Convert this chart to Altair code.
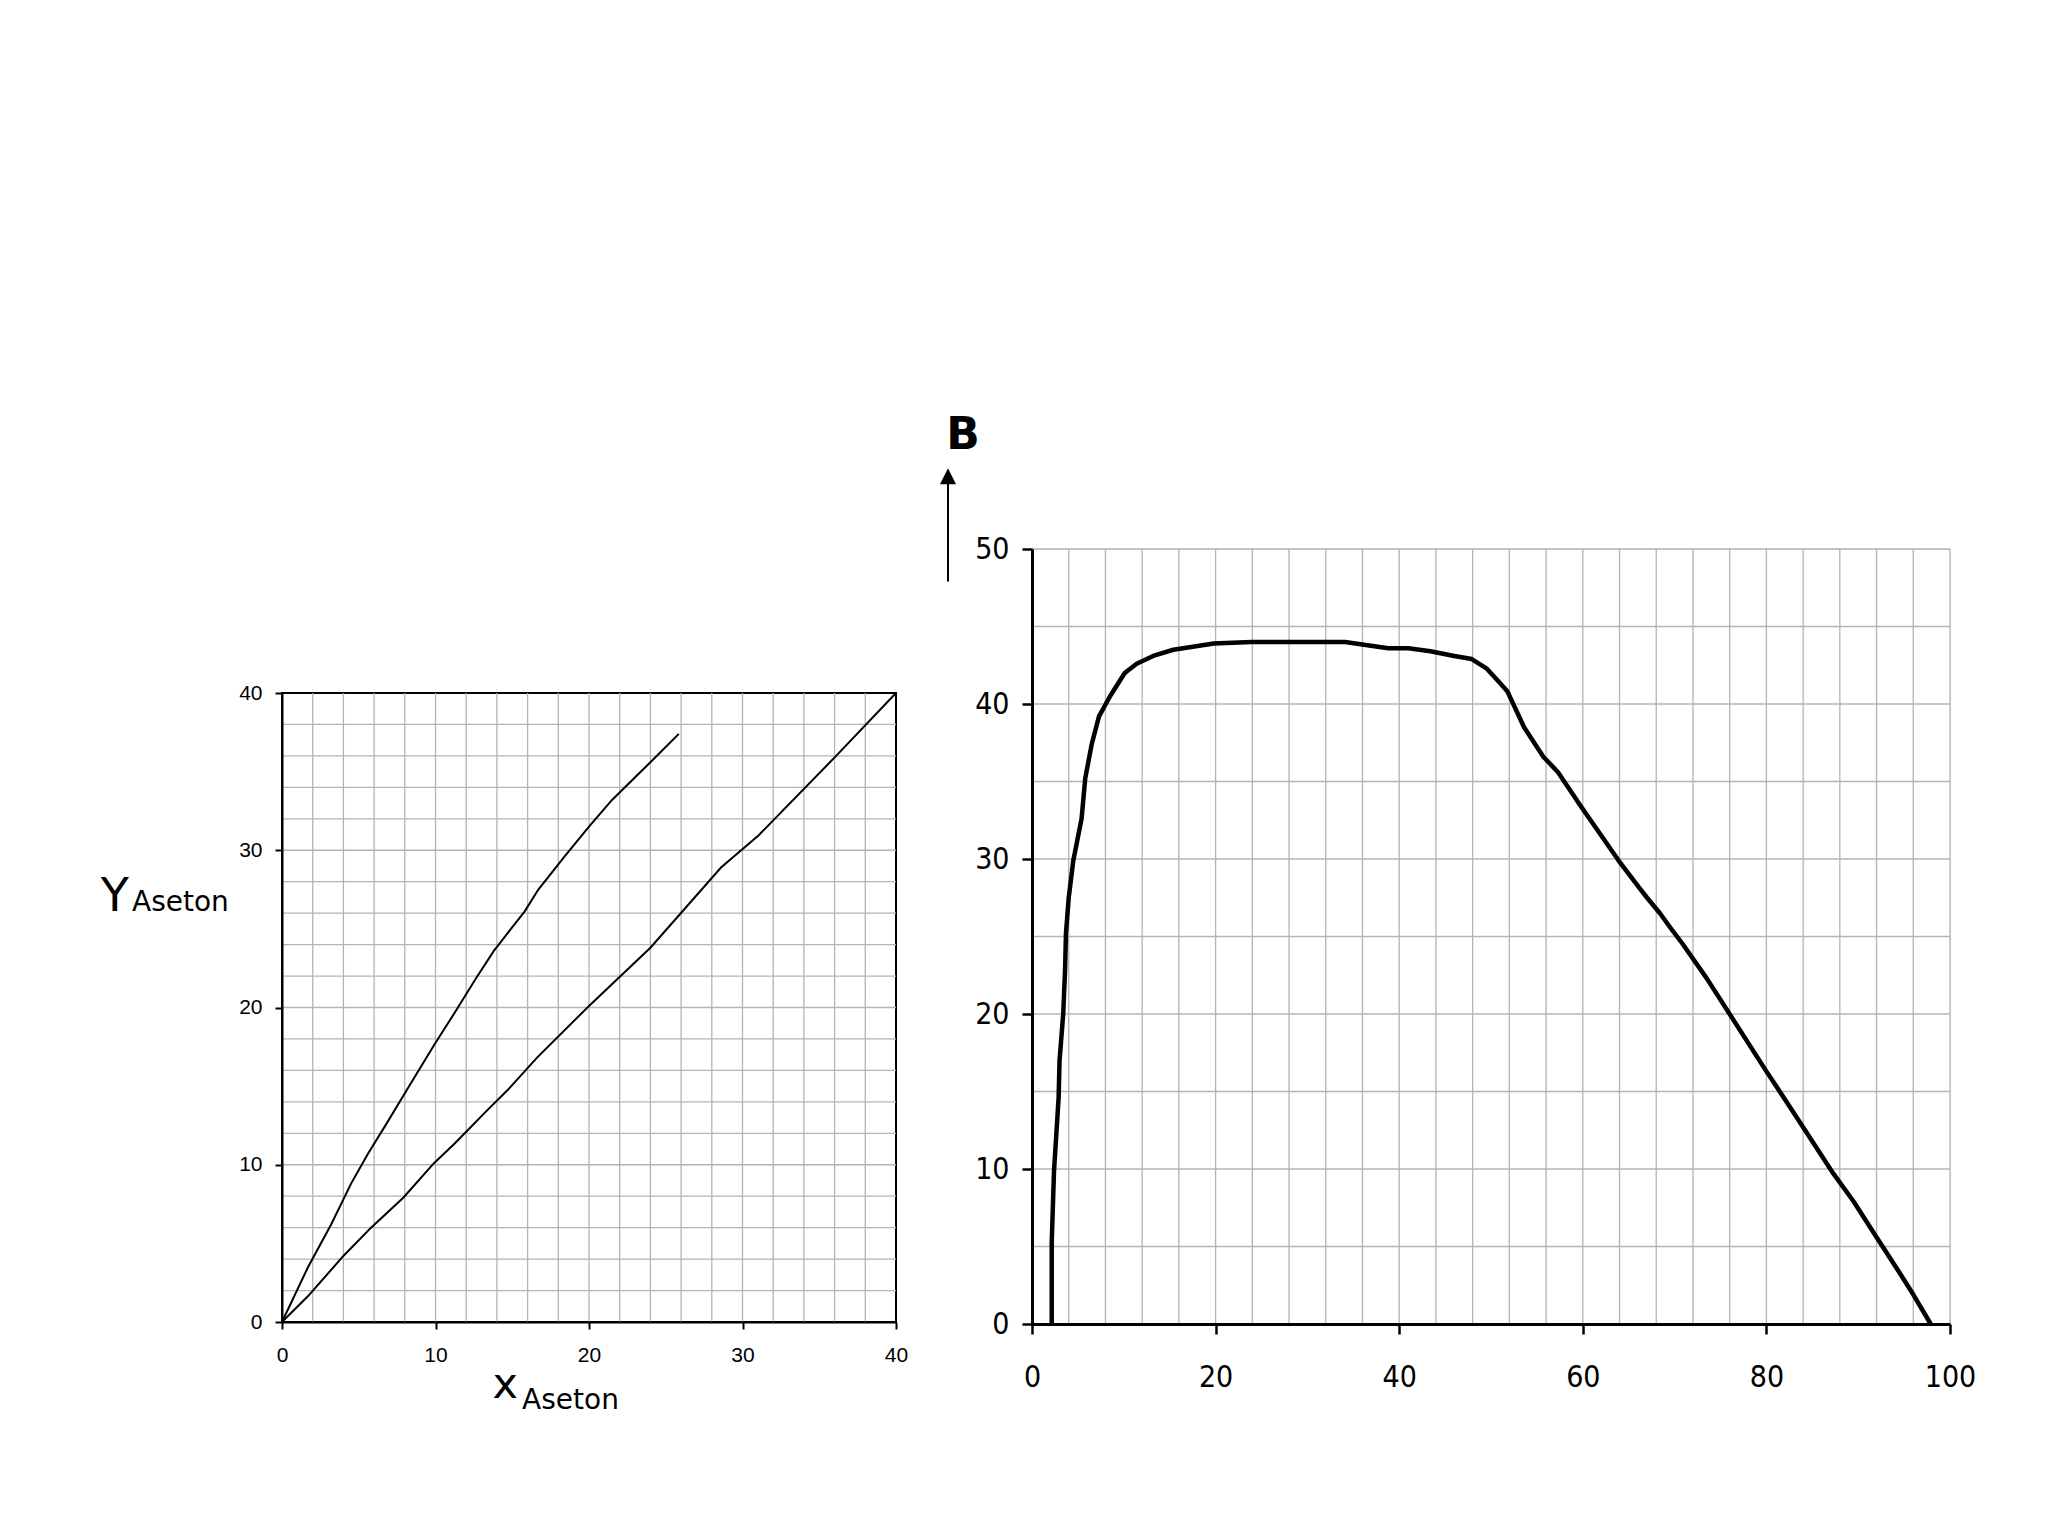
import altair as alt
import pandas as pd

# ---------------- data: left panel (x_Aseton vs y_Aseton) ----------------
upper_x = [0, 1.7, 3.2, 4.5, 5.6, 6.8, 8.1, 9.9, 11.4, 12.6, 13.8, 15.8, 16.7, 18.4, 20.0, 21.5, 24.0, 25.85]
upper_y = [0, 3.5, 6.2, 8.8, 10.7, 12.6, 14.7, 17.6, 19.9, 21.8, 23.6, 26.1, 27.5, 29.6, 31.5, 33.2, 35.6, 37.4]
lower_x = [0, 1.7, 4.0, 5.8, 7.9, 9.9, 11.2, 12.4, 13.2, 14.7, 16.6, 20.0, 24.0, 28.6, 31.0, 36.1, 40]
lower_y = [0, 1.65, 4.2, 6.0, 7.9, 10.1, 11.3, 12.5, 13.3, 14.75, 16.8, 20.1, 23.8, 28.9, 30.9, 36.0, 40]
left_ticks = [0, 10, 20, 30, 40]
left_grid = [2, 4, 6, 8, 10, 12, 14, 16, 18, 20, 22, 24, 26, 28, 30, 32, 34, 36, 38]

# ---------------- data: right panel ----------------
right_x = [2.15, 2.15, 2.4, 2.9, 3.0, 3.4, 3.6, 3.7, 4.0, 4.5, 5.4, 5.8, 6.5, 7.3, 8.5, 10.1, 11.4,
           13.2, 15.4, 19.8, 23.9, 34.1, 38.8, 41.0, 43.4, 46.0, 47.9, 49.5, 50.9, 51.8, 53.6, 55.7,
           57.3, 59.9, 63.9, 66.2, 67.0, 68.4, 69.5, 70.9, 73.5, 76.1, 80.0, 82.9, 85.1, 87.3, 89.5,
           92.0, 94.4, 96.0, 97.9]
right_y = [0, 5.3, 9.9, 14.6, 17.0, 20.0, 22.8, 25.2, 27.5, 29.9, 32.6, 35.2, 37.4, 39.2, 40.5, 42.0, 42.6,
           43.1, 43.5, 43.9, 44.0, 44.0, 43.6, 43.6, 43.4, 43.1, 42.9, 42.3, 41.4, 40.8, 38.5, 36.6,
           35.6, 33.3, 29.9, 28.1, 27.5, 26.5, 25.6, 24.5, 22.3, 19.9, 16.3, 13.7, 11.7, 9.7, 7.9,
           5.6, 3.4, 1.9, 0]
right_xticks = [0, 20, 40, 60, 80, 100]
right_yticks = [0, 10, 20, 30, 40, 50]
right_xgrid = [4, 8, 12, 16, 20, 24, 28, 32, 36, 40, 44, 48, 52, 56, 60, 64, 68, 72, 76, 80, 84, 88, 92, 96, 100]
right_ygrid = [5, 10, 15, 20, 25, 30, 35, 40, 45, 50]

# ---------------- annotation texts ----------------
y_title = ["Y", "Aseton"]
x_title = ["x", "Aseton"]
right_label = "B"

title_font = "DejaVu Sans, sans-serif"
GRID = "#b4b4b4"

# ================= left panel =================
l_font = "Liberation Sans, Arial, sans-serif"
LS = dict(domain=[0, 40], nice=False, zero=False)
laxis_common = dict(values=left_ticks, title=None, grid=False, domainColor="black", domainWidth=2,
                    tickColor="black", tickWidth=2, tickSize=7, labelFont=l_font, labelFontSize=21,
                    labelColor="black", labelFlush=False, labelOverlap=False, zindex=1)
LX_AXIS = alt.Axis(labelPadding=15, **laxis_common)
LY_AXIS = alt.Axis(labelPadding=13, **laxis_common)


def lx(field):
    return alt.X(field, scale=alt.Scale(**LS), axis=LX_AXIS)


def ly(field):
    return alt.Y(field, scale=alt.Scale(**LS), axis=LY_AXIS)


lgrid_v = alt.Chart(pd.DataFrame({"g": left_grid})).mark_rule(color=GRID, strokeWidth=1.3).encode(
    x=lx("g:Q"))
lgrid_h = alt.Chart(pd.DataFrame({"g": left_grid})).mark_rule(color=GRID, strokeWidth=1.3).encode(
    y=ly("g:Q"))

lines_df = pd.DataFrame({
    "x": upper_x + lower_x,
    "y": upper_y + lower_y,
    "s": ["upper"] * len(upper_x) + ["lower"] * len(lower_x),
    "i": list(range(len(upper_x))) + list(range(len(lower_x))),
})
llines = alt.Chart(lines_df).mark_line(color="black", strokeWidth=2).encode(
    x=lx("x:Q"), y=ly("y:Q"), detail="s:N", order="i:Q")

ybig = alt.Chart(pd.DataFrame({"t": [y_title[0]], "x": [-9.97], "y": [26.15]})).mark_text(
    align="right", baseline="alphabetic", font=title_font, fontSize=46, color="black").encode(
    x=lx("x:Q"), y=ly("y:Q"), text="t:N")
xbig = alt.Chart(pd.DataFrame({"t": [x_title[0]], "x": [15.37], "y": [-4.83]})).mark_text(
    align="right", baseline="alphabetic", font=title_font, fontSize=43, color="black").encode(
    x=lx("x:Q"), y=ly("y:Q"), text="t:N")
subs = alt.Chart(pd.DataFrame({"t": [y_title[1], x_title[1]], "x": [-9.77, 15.64], "y": [26.15, -5.53]})).mark_text(
    align="left", baseline="alphabetic", font=title_font, fontSize=28, color="black").encode(
    x=lx("x:Q"), y=ly("y:Q"), text="t:N")

left = alt.layer(lgrid_v, lgrid_h, llines, ybig, xbig, subs).properties(
    width=614, height=629, view=alt.ViewBackground(stroke="black", strokeWidth=2))

spacer = alt.Chart(pd.DataFrame({"s": [0]})).mark_point(opacity=0).properties(width=10, height=144)

# ================= right panel =================
r_font = "Liberation Sans Narrow, Arial Narrow, DejaVu Sans Condensed, sans-serif"
RXS = dict(domain=[0, 100], nice=False, zero=False)
RYS = dict(domain=[0, 50], nice=False, zero=False)
raxis_common = dict(title=None, grid=False, domainColor="black", domainWidth=3, tickColor="black",
                    tickWidth=2.5, tickSize=10, labelFont=r_font, labelFontSize=30, labelColor="black",
                    labelFlush=False, labelOverlap=False, zindex=1)
RX_AXIS = alt.Axis(values=right_xticks, labelPadding=28, **raxis_common)
RY_AXIS = alt.Axis(values=right_yticks, labelPadding=13, **raxis_common)


def rx(field):
    return alt.X(field, scale=alt.Scale(**RXS), axis=RX_AXIS)


def ry(field):
    return alt.Y(field, scale=alt.Scale(**RYS), axis=RY_AXIS)


rgrid_v = alt.Chart(pd.DataFrame({"g": right_xgrid})).mark_rule(color=GRID, strokeWidth=1.3).encode(
    x=rx("g:Q"))
rgrid_h = alt.Chart(pd.DataFrame({"g": right_ygrid})).mark_rule(color=GRID, strokeWidth=1.3).encode(
    y=ry("g:Q"))

rdf = pd.DataFrame({"x": right_x, "y": right_y, "i": list(range(len(right_x)))})
rline = alt.Chart(rdf).mark_line(color="black", strokeWidth=4.5, strokeJoin="round").encode(
    x=rx("x:Q"), y=ry("y:Q"), order="i:Q")

arrow_df = pd.DataFrame({"x": [-9.15], "y": [47.9], "y2": [54.3], "ty": [54.7]})
arrow_shaft = alt.Chart(arrow_df).mark_rule(color="black", strokeWidth=2).encode(
    x=rx("x:Q"), y=ry("y:Q"), y2="y2:Q")
arrow_head = alt.Chart(arrow_df).mark_point(shape="M0,-1L1,1L-1,1Z", size=256, filled=True, color="black",
                                            opacity=1).encode(x=rx("x:Q"), y=ry("ty:Q"))
b_text = alt.Chart(pd.DataFrame({"t": [right_label], "x": [-7.52], "y": [57.3]})).mark_text(
    font=title_font, fontSize=44, fontWeight="bold", color="black", baseline="middle", align="center").encode(
    x=rx("x:Q"), y=ry("y:Q"), text="t:N")

right = alt.layer(rgrid_v, rgrid_h, rline, arrow_shaft, arrow_head, b_text).properties(width=918, height=775)

chart = alt.hconcat(
    alt.vconcat(spacer, left, spacing=0, bounds="flush"), right, spacing=750, bounds="flush"
).properties(
    padding={"left": 91, "top": 405, "right": 10, "bottom": 10}
).configure_view(stroke=None).configure(background="white")

chart.save("out.html", embed_options={"renderer": "svg", "actions": False})
